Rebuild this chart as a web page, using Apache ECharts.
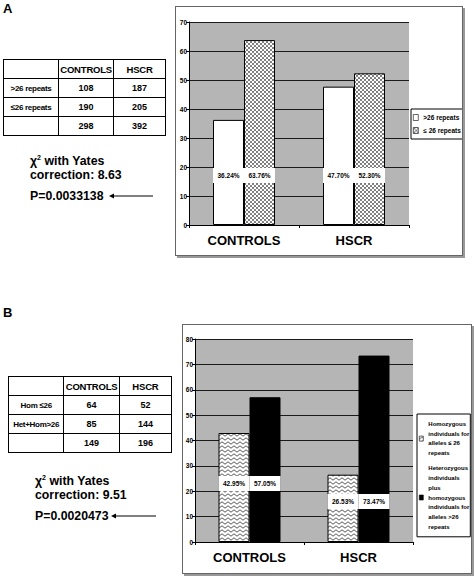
<!DOCTYPE html>
<html>
<head>
<meta charset="utf-8">
<script src="https://cdn.jsdelivr.net/npm/echarts/dist/echarts.min.js"></script>
<style>
body { margin:0; width:474px; height:576px; position:relative; background:#fff; overflow:hidden;
       font-family:"Liberation Sans", Arial, sans-serif; font-weight:bold; color:#000; }
.abs { position:absolute; }
.panel { position:absolute; font-size:13px; line-height:13px; }
table.counts { position:absolute; border-collapse:collapse; table-layout:fixed; }
table.counts td { border:1px solid #000; padding:0; text-align:center; vertical-align:middle;
                  font-size:9px; overflow:visible; white-space:nowrap; }
table.counts td.h { font-size:9.5px; letter-spacing:-0.2px; }
table.counts td.r { font-size:8px; letter-spacing:-0.3px; }
.stat { position:absolute; font-size:12.3px; line-height:14px; white-space:nowrap; }
.stat sup { font-size:7px; line-height:0; vertical-align:5px; }
.box { position:absolute; box-sizing:border-box; border:1px solid #666; box-shadow:2px 2px 0 #999; background:#fff; }
</style>
</head>
<body>
<div class="panel" style="left:3px;top:2px;">A</div>
<table class="counts" id="tableA" style="left:3px;top:59px;width:163px;"></table>
<div class="stat" style="left:30px;top:154px;">&chi;<sup>2</sup> with Yates</div>
<div class="stat" style="left:30px;top:168px;">correction: 8.63</div>
<div class="stat" style="left:30px;top:189px;">P=0.0033138</div>
<svg class="abs" style="left:108px;top:192px;" width="48" height="8">
  <line x1="5" y1="4" x2="45" y2="4" stroke="#000" stroke-width="1"/>
  <polygon points="1,4 6,1.5 6,6.5" fill="#000"/>
</svg>
<div class="box" id="chartA" style="left:175px;top:6px;width:288px;height:250px;"></div>

<div class="panel" style="left:3px;top:306px;">B</div>
<table class="counts" id="tableB" style="left:8px;top:376px;width:164px;"></table>
<div class="stat" style="left:35px;top:474px;">&chi;<sup>2</sup> with Yates</div>
<div class="stat" style="left:35px;top:488px;">correction: 9.51</div>
<div class="stat" style="left:35px;top:509px;">P=0.0020473</div>
<svg class="abs" style="left:110px;top:512px;" width="48" height="8">
  <line x1="5" y1="4" x2="46" y2="4" stroke="#000" stroke-width="1"/>
  <polygon points="1,4 6,1.5 6,6.5" fill="#000"/>
</svg>
<div class="box" id="chartB" style="left:182px;top:324px;width:290px;height:250px;"></div>

<script>
// ---- data ----
const categories = ['CONTROLS', 'HSCR'];

// panel A: allele counts and percentages
const rowLabelsA = ['>26 repeats', '≤26 repeats', ''];
const controlsCountA = [108, 190, 298];
const hscrCountA = [187, 205, 392];
const namesA = ['>26 repeats', '≤ 26 repeats'];
const over26A = [36.24, 47.70];
const upTo26A = [63.76, 52.30];
const yMaxA = 70;

// panel B: genotype counts and percentages
const rowLabelsB = ['Hom ≤26', 'Het+Hom>26', ''];
const controlsCountB = [64, 85, 149];
const hscrCountB = [52, 144, 196];
const namesB = ['Homozygous individuals for alleles ≤ 26 repeats',
                'Heterozygous individuals plus homozygous individuals for alleles >26 repeats'];
const homUpTo26B = [42.95, 26.53];
const hetHomOver26B = [57.05, 73.47];
const yMaxB = 80;

// ---- layout (px) ----
const labelLiftA = [42, 42];
const labelLiftB = [51, 33];

function fillTable(id, rowLabels, c1, c2) {
  let html = '<colgroup><col style="width:34%"><col style="width:34%"><col style="width:32%"></colgroup>';
  html += '<tr style="height:19px"><td></td><td class="h">' + categories[0] + '</td><td class="h">' + categories[1] + '</td></tr>';
  rowLabels.forEach(function (r, i) {
    html += '<tr style="height:19px"><td class="r">' + r + '</td><td>' + c1[i] + '</td><td>' + c2[i] + '</td></tr>';
  });
  document.getElementById(id).innerHTML = html;
}
fillTable('tableA', rowLabelsA, controlsCountA, hscrCountA);
fillTable('tableB', rowLabelsB, controlsCountB, hscrCountB);

// word wrap for the long legend entries of panel B
const measureCtx = document.createElement('canvas').getContext('2d');
function wrapWords(text, font, maxWidth) {
  measureCtx.font = font;
  const lines = [];
  let line = '';
  text.split(' ').forEach(function (w) {
    const t = line ? line + ' ' + w : w;
    if (line && measureCtx.measureText(t).width > maxWidth) {
      lines.push(line);
      line = w;
    } else {
      line = t;
    }
  });
  lines.push(line);
  return lines.join('\n');
}

// fill patterns
function dotTile() {
  const c = document.createElement('canvas');
  c.width = 4; c.height = 4;
  const g = c.getContext('2d');
  g.fillStyle = '#fff'; g.fillRect(0, 0, 4, 4);
  g.fillStyle = '#707070';
  g.beginPath(); g.arc(1, 1, 1.1, 0, Math.PI * 2); g.fill();
  g.beginPath(); g.arc(3, 3, 1.1, 0, Math.PI * 2); g.fill();
  return c;
}
function zigzagTile() {
  const c = document.createElement('canvas');
  c.width = 6; c.height = 4;
  const g = c.getContext('2d');
  g.fillStyle = '#fff'; g.fillRect(0, 0, 6, 4);
  g.strokeStyle = '#444'; g.lineWidth = 0.9;
  g.beginPath(); g.moveTo(0, 3.2); g.lineTo(3, 0.8); g.lineTo(6, 3.2); g.stroke();
  return c;
}
const dots = { image: dotTile(), repeat: 'repeat', imageWidth: 4, imageHeight: 4 };
const zigzag = { image: zigzagTile(), repeat: 'repeat', imageWidth: 6, imageHeight: 4 };

function barSeries(name, values, fill, lifts) {
  return {
    name: name,
    type: 'bar',
    barWidth: 31,
    barGap: '0%',
    itemStyle: { color: fill, borderColor: '#000', borderWidth: 1 },
    label: {
      show: true,
      position: 'insideBottom',
      formatter: function (p) { return p.value.toFixed(2) + '%'; },
      fontSize: 6.5, fontWeight: 'bold', color: '#000',
      backgroundColor: '#fff', width: 29, align: 'center', padding: [4, 1]
    },
    data: values.map(function (v, i) { return { value: v, label: { distance: lifts[i] } }; })
  };
}

function makeOption(opts) {
  return {
    animation: false,
    grid: {
      left: opts.grid[0], top: opts.grid[1], right: opts.grid[2], bottom: opts.grid[3],
      show: true, backgroundColor: '#b5b5b5', borderWidth: 0, outerBoundsMode: 'none'
    },
    legend: Object.assign({
      type: 'plain',
      orient: 'vertical', left: opts.legend[0], top: opts.legend[1],
      backgroundColor: '#fff', borderColor: '#000', borderWidth: 1, borderRadius: 0,
      itemWidth: 5, itemHeight: 6,
      icon: 'rect',
      itemStyle: { borderColor: '#000', borderWidth: 0.6 },
      textStyle: { fontSize: 6.5, fontWeight: 'bold', color: '#000', fontFamily: 'Liberation Sans' },
      data: opts.names
    }, opts.legendExtra),
    xAxis: {
      type: 'category', data: categories,
      axisLine: { lineStyle: { color: '#000', width: 1 } },
      axisTick: { show: true, length: 3, lineStyle: { color: '#000' } },
      axisLabel: { margin: 9, fontSize: 13, fontWeight: 900, color: '#000', fontFamily: 'Liberation Sans' }
    },
    yAxis: {
      type: 'value', min: 0, max: opts.yMax, interval: 10,
      axisLine: { show: true, lineStyle: { color: '#000', width: 1 } },
      axisTick: { show: true, length: 3, lineStyle: { color: '#000' } },
      axisLabel: { margin: 2, fontSize: 6.5, fontWeight: 'bold', color: '#000', fontFamily: 'Liberation Sans' },
      splitLine: { lineStyle: { color: '#1a1a1a', width: 1 } }
    },
    textStyle: { fontFamily: 'Liberation Sans' },
    series: opts.series
  };
}

const chartA = echarts.init(document.getElementById('chartA'), null, { renderer: 'svg' });
chartA.setOption(makeOption({
  grid: [13, 15, 53, 30],
  legend: [235, 102],
  legendExtra: { padding: [5, 3, 5, 2], itemGap: 6 },
  names: namesA,
  yMax: yMaxA,
  series: [
    barSeries(namesA[0], over26A, '#fff', labelLiftA),
    barSeries(namesA[1], upTo26A, dots, labelLiftA)
  ]
}));

const chartB = echarts.init(document.getElementById('chartB'), null, { renderer: 'svg' });
chartB.setOption(makeOption({
  grid: [12, 14, 58, 31],
  legend: [234, 89],
  legendExtra: {
    padding: [5, 1, 5, 2], itemGap: 5, itemWidth: 4, itemHeight: 5,
    formatter: function (name) { return wrapWords(name, 'bold 6px "Liberation Sans"', 42); },
    textStyle: { fontSize: 6, lineHeight: 9.8, fontWeight: 'bold', color: '#000', fontFamily: 'Liberation Sans' }
  },
  names: namesB,
  yMax: yMaxB,
  series: [
    barSeries(namesB[0], homUpTo26B, zigzag, labelLiftB),
    barSeries(namesB[1], hetHomOver26B, '#000', labelLiftB)
  ]
}));
</script>
</body>
</html>
